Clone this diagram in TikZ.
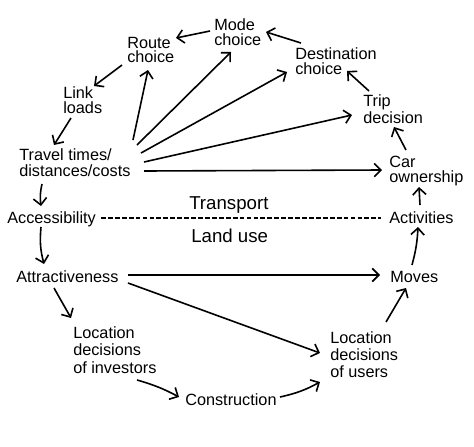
\documentclass[tikz,border=0pt]{standalone}
\usepackage{fontspec}
\setmainfont{Liberation Sans}
\usetikzlibrary{arrows.meta}
\begin{document}
\begin{tikzpicture}[x=0.75pt,y=-0.75pt,
  lbl/.style={inner sep=0pt,anchor=base west,align=left,font=\fontsize{12.2pt}{10.5pt}\selectfont},
  big/.style={inner sep=0pt,anchor=base west,font=\fontsize{14pt}{14pt}\selectfont},
  arr/.style={line width=1.2pt,-{Straight Barb[length=5pt,width=10pt,line width=1.2pt]}},
  dline/.style={line width=1pt,dash pattern=on 3.6pt off 1.6pt}]
\useasboundingbox (0,0) rectangle (474,446);
% nodes (anchor = baseline of last line)
\node[lbl] (mc) at (214,45) {Mode\\choice};
\node[lbl] (rc) at (127,62) {Route\\choice};
\node[lbl,font=\fontsize{12.2pt}{11.25pt}\selectfont] (dc) at (295,74) {Destination\\choice};
\node[lbl,font=\fontsize{12.2pt}{11.25pt}\selectfont] (ll) at (63,113) {Link\\loads};
\node[lbl,font=\fontsize{12.2pt}{11.25pt}\selectfont] (td) at (363,123) {Trip\\decision};
\node[lbl,font=\fontsize{12.2pt}{12pt}\selectfont] (tt) at (19,176) {Travel times/\\distances/costs};
\node[lbl,font=\fontsize{12.2pt}{11.25pt}\selectfont] (co) at (389,182) {Car\\ownership};
\node[lbl] (acc) at (7,223) {Accessibility};
\node[big] (tr) at (189,209) {Transport};
\node[big] (lu) at (191,242) {Land use};
\node[lbl] (act) at (389,223) {Activities};
\node[lbl] (att) at (16,282) {Attractiveness};
\node[lbl] (mv) at (390,282) {Moves};
\node[lbl,font=\fontsize{12.2pt}{13.1pt}\selectfont] (li) at (73,373) {Location\\decisions\\of investors};
\node[lbl,font=\fontsize{12.2pt}{12.75pt}\selectfont] (lus) at (330,377) {Location\\decisions\\of users};
\node[lbl] (con) at (185,405) {Construction};
% cycle arrows
\draw[arr] ([shift={(6,-31)}]dc.base west) -- ([shift={(52,-13)}]mc.base west);
\draw[arr] ([shift={(-4,-14)}]mc.base west) -- ([shift={(49,-24)}]rc.base west);
\draw[arr] ([shift={(-5,3)}]rc.base west) -- ([shift={(31,-27)}]ll.base west);
\draw[arr] ([shift={(8,5)}]ll.base west) -- ([shift={(35,-31)}]tt.base west);
\draw[arr] ([shift={(23,8)}]tt.base west) to[bend right=10] ([shift={(34,-17)}]acc.base west);
\draw[arr] ([shift={(34,4)}]acc.base west) to[bend right=10] ([shift={(28,-18)}]att.base west);
\draw[arr] ([shift={(38,6)}]att.base west) -- ([shift={(-2,-55)}]li.base west);
\draw[arr] ([shift={(64,7)}]li.base west) to[bend left=6] ([shift={(-6,-8)}]con.base west);
\draw[arr] ([shift={(95,-8)}]con.base west) to[bend right=8] ([shift={(-10,5)}]lus.base west);
\draw[arr] ([shift={(56,-55)}]lus.base west) -- ([shift={(16,6)}]mv.base west);
\draw[arr] ([shift={(22,-17)}]mv.base west) to[bend right=6] ([shift={(29,4)}]act.base west);
\draw[arr] ([shift={(31,-18)}]act.base west) -- ([shift={(30,5)}]co.base west);
\draw[arr] ([shift={(17,-32)}]co.base west) -- ([shift={(31,4)}]td.base west);
\draw[arr] ([shift={(6,-32)}]td.base west) -- ([shift={(52,-3)}]dc.base west);
% fan from travel times
\draw[arr] ([shift={(114,-36)}]tt.base west) -- ([shift={(21,8)}]rc.base west);
\draw[arr] ([shift={(118,-31)}]tt.base west) -- ([shift={(17,7)}]mc.base west);
\draw[arr] ([shift={(122,-23)}]tt.base west) -- ([shift={(-8,-2)}]dc.base west);
\draw[arr] ([shift={(125,-14)}]tt.base west) -- ([shift={(-11,-8)}]td.base west);
\draw[arr] ([shift={(125,-5)}]tt.base west) -- ([shift={(-7,-12)}]co.base west);
% from attractiveness
\draw[arr] ([shift={(112,-7)}]att.base west) -- ([shift={(-10,-7)}]mv.base west);
\draw[arr] ([shift={(112,1)}]att.base west) -- ([shift={(-10,-24)}]lus.base west);
% dashed divider
\draw[dline] ([shift={(94,-5)}]acc.base west) -- ([shift={(-8,-5)}]act.base west);
\end{tikzpicture}
\end{document}
